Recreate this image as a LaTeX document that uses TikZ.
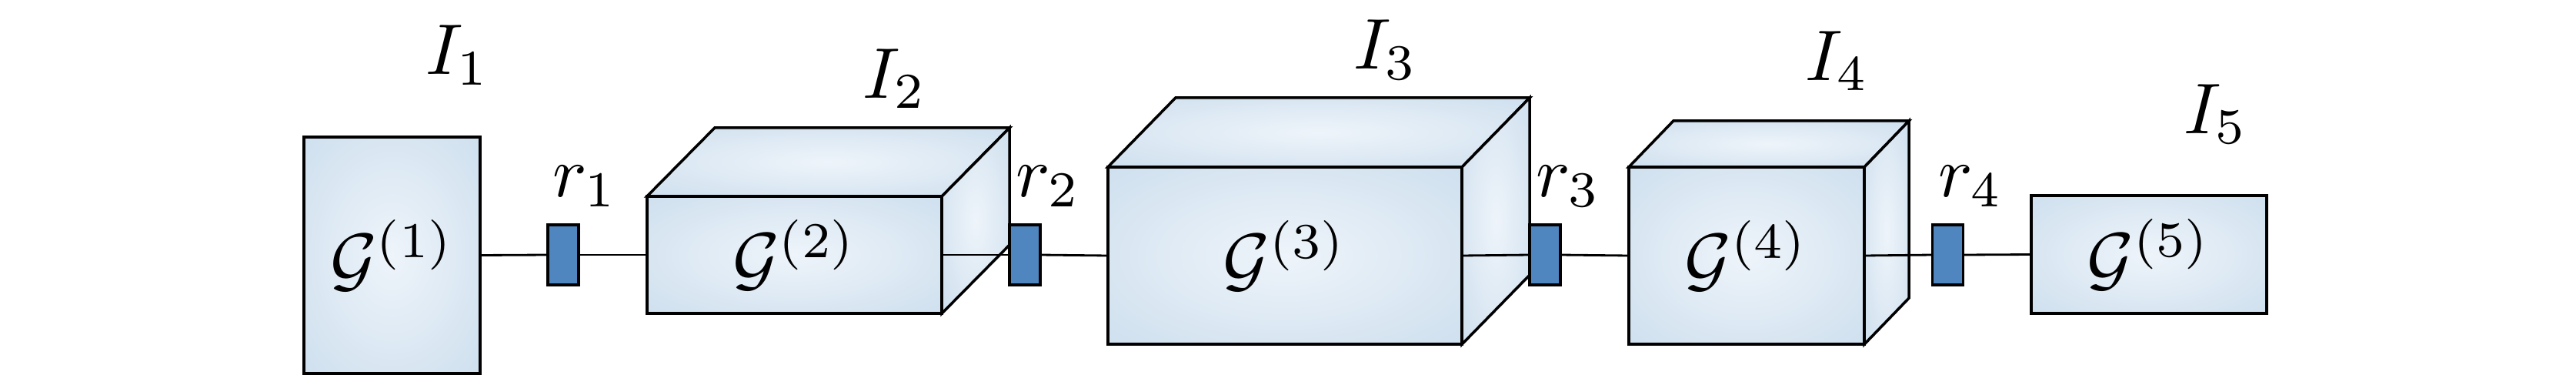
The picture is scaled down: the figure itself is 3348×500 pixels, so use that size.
\documentclass[tikz,border=0pt]{standalone}
\usepackage{graphicx}
\usetikzlibrary{calc}
\definecolor{boxin}{HTML}{EEF4FA}
\definecolor{boxout}{HTML}{C6DAEB}
\definecolor{blockfill}{HTML}{4F86C0}
\pgfdeclareradialshading{boxshade}{\pgfpoint{0bp}{0bp}}{color(0bp)=(boxin); color(45bp)=(boxout); color(72bp)=(boxout)}
\newcommand{\bigtxt}[1]{\scalebox{2.65}{#1}}
\tikzset{
  face/.style={shade, shading=boxshade, draw=black, line width=1pt, line join=miter},
  frontface/.style={face, inner sep=0pt, outer sep=0pt},
  block/.style={fill=blockfill, draw=black, line width=1pt, minimum width=0.40cm, minimum height=0.78cm, inner sep=0pt, outer sep=0pt},
  conn/.style={draw=black, line width=0.8pt},
  lbl/.style={inner sep=0pt, anchor=base}
}
\begin{document}
\begin{tikzpicture}[x=0.01cm, y=-0.01cm]
\useasboundingbox (0,0) rectangle (3348,500);

% front faces
\node[frontface, minimum width=2.29cm, minimum height=3.07cm] (g1) at (509.5,331.5) {\bigtxt{$\mathcal{G}^{(1)}$}};
\node[frontface, minimum width=3.83cm, minimum height=1.52cm] (g2) at (1032.5,331) {\bigtxt{$\mathcal{G}^{(2)}$}};
\node[frontface, minimum width=4.60cm, minimum height=2.30cm] (g3) at (1670,332) {\bigtxt{$\mathcal{G}^{(3)}$}};
\node[frontface, minimum width=3.06cm, minimum height=2.30cm] (g4) at (2270,332) {\bigtxt{$\mathcal{G}^{(4)}$}};
\node[frontface, minimum width=3.06cm, minimum height=1.53cm] (g5) at (2793,330.5) {\bigtxt{$\mathcal{G}^{(5)}$}};

% top and side faces
\path[face] (g2.north west) -- (g2.north east) -- ++(88,-89) -- ($(g2.north west)+(88,-89)$) -- cycle;
\path[face] (g2.north east) -- ++(88,-89) -- ($(g2.south east)+(88,-89)$) -- (g2.south east) -- cycle;
\path[face] (g3.north west) -- (g3.north east) -- ++(88,-90) -- ($(g3.north west)+(88,-90)$) -- cycle;
\path[face] (g3.north east) -- ++(88,-90) -- ($(g3.south east)+(88,-90)$) -- (g3.south east) -- cycle;
\path[face] (g4.north west) -- (g4.north east) -- ++(58,-60) -- ($(g4.north west)+(58,-60)$) -- cycle;
\path[face] (g4.north east) -- ++(58,-60) -- ($(g4.south east)+(58,-60)$) -- (g4.south east) -- cycle;

% blocks
\node[block] (r1) at (732,331) {};
\node[block] (r2) at (1332,331) {};
\node[block] (r3) at (2008,331) {};
\node[block] (r4) at (2531.5,331) {};

% connectors
\draw[conn] (g1.east) -- (r1.west);
\draw[conn] (r1.east) -- (g2.west);
\draw[conn] (g2.east) -- (r2.west);
\draw[conn] (r2.east) -- (g3.west);
\draw[conn] (g3.east) -- (r3.west);
\draw[conn] (r3.east) -- (g4.west);
\draw[conn] (g4.east) -- (r4.west);
\draw[conn] (r4.east) -- (g5.west);

% block labels
\node[lbl] (lr1) at (760,255) {\bigtxt{$r_1$}};
\node[lbl] (lr2) at (1362,255) {\bigtxt{$r_2$}};
\node[lbl] (lr3) at (2038,255) {\bigtxt{$r_3$}};
\node[lbl] (lr4) at (2561,255) {\bigtxt{$r_4$}};

% interval labels
\node[lbl] (li1) at (595,97) {\bigtxt{$I_1$}};
\node[lbl] (li2) at (1163,127) {\bigtxt{$I_2$}};
\node[lbl] (li3) at (1801,90) {\bigtxt{$I_3$}};
\node[lbl] (li4) at (2388,104) {\bigtxt{$I_4$}};
\node[lbl] (li5) at (2880,173) {\bigtxt{$I_5$}};
\end{tikzpicture}
\end{document}
